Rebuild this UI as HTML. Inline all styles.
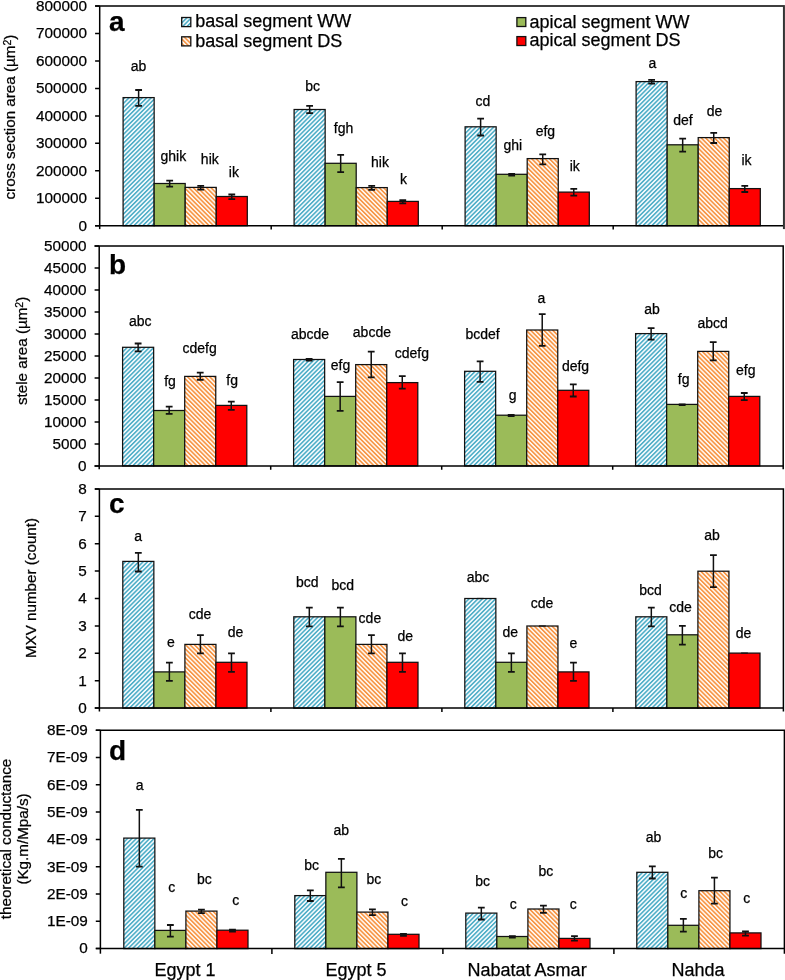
<!DOCTYPE html>
<html><head><meta charset="utf-8"><title>Root anatomy bar charts</title>
<style>html,body{margin:0;padding:0;background:#fff;}svg{display:block;}text{font-family:"Liberation Sans",Arial,sans-serif;fill:#000;stroke:#000;stroke-width:0.25px;}.tl{font-size:15.3px;}.lb{font-size:14px;}.ct{font-size:18px;}.lg{font-size:18px;}.yt{font-size:15.2px;}.sup{font-size:10.5px;}.pl{font-size:28px;font-weight:bold;}</style>
</head><body>
<svg width="785" height="980" viewBox="0 0 785 980">
<defs>
<pattern id="pb" patternUnits="userSpaceOnUse" width="3.13" height="10" patternTransform="rotate(45)"><rect width="3.13" height="10" fill="#f2f9fc"/><rect width="1.5" height="10" fill="#4bacc6"/></pattern>
<pattern id="po" patternUnits="userSpaceOnUse" width="3.13" height="10" patternTransform="rotate(-45)"><rect width="3.13" height="10" fill="#fffaf5"/><rect width="1.65" height="10" fill="#f79646"/></pattern>
</defs>
<rect width="785" height="980" fill="#fff"/>
<rect x="123.1" y="97.6" width="31.05" height="128.1" fill="url(#pb)" stroke="#111" stroke-width="1.25"/>
<rect x="154.15" y="183.5" width="31.05" height="42.2" fill="#9bbb59" stroke="#111" stroke-width="1.25"/>
<rect x="185.2" y="187.4" width="31.05" height="38.3" fill="url(#po)" stroke="#111" stroke-width="1.25"/>
<rect x="216.25" y="196.5" width="31.05" height="29.2" fill="#ff0000" stroke="#111" stroke-width="1.25"/>
<rect x="294.1" y="109.5" width="31.05" height="116.2" fill="url(#pb)" stroke="#111" stroke-width="1.25"/>
<rect x="325.15" y="163.3" width="31.05" height="62.4" fill="#9bbb59" stroke="#111" stroke-width="1.25"/>
<rect x="356.2" y="187.6" width="31.05" height="38.1" fill="url(#po)" stroke="#111" stroke-width="1.25"/>
<rect x="387.25" y="201.4" width="31.05" height="24.3" fill="#ff0000" stroke="#111" stroke-width="1.25"/>
<rect x="465.1" y="126.8" width="31.05" height="98.9" fill="url(#pb)" stroke="#111" stroke-width="1.25"/>
<rect x="496.15" y="174.3" width="31.05" height="51.4" fill="#9bbb59" stroke="#111" stroke-width="1.25"/>
<rect x="527.2" y="158.6" width="31.05" height="67.1" fill="url(#po)" stroke="#111" stroke-width="1.25"/>
<rect x="558.25" y="192.1" width="31.05" height="33.6" fill="#ff0000" stroke="#111" stroke-width="1.25"/>
<rect x="636.1" y="81.6" width="31.05" height="144.1" fill="url(#pb)" stroke="#111" stroke-width="1.25"/>
<rect x="667.15" y="144.8" width="31.05" height="80.9" fill="#9bbb59" stroke="#111" stroke-width="1.25"/>
<rect x="698.2" y="137.6" width="31.05" height="88.1" fill="url(#po)" stroke="#111" stroke-width="1.25"/>
<rect x="729.25" y="188.6" width="31.05" height="37.1" fill="#ff0000" stroke="#111" stroke-width="1.25"/>
<path d="M138.62 90V105.9" stroke="#111" stroke-width="1.5" fill="none"/>
<path d="M135.22 90H142.03M135.22 105.9H142.03" stroke="#111" stroke-width="1.8" fill="none"/>
<text class="lb" x="138.6" y="71.4" text-anchor="middle">ab</text>
<path d="M169.68 180.7V186.6" stroke="#111" stroke-width="1.5" fill="none"/>
<path d="M166.28 180.7H173.08M166.28 186.6H173.08" stroke="#111" stroke-width="1.8" fill="none"/>
<text class="lb" x="173.4" y="161.1" text-anchor="middle">ghik</text>
<path d="M200.72 185.8V189.6" stroke="#111" stroke-width="1.5" fill="none"/>
<path d="M197.32 185.8H204.12M197.32 189.6H204.12" stroke="#111" stroke-width="1.8" fill="none"/>
<text class="lb" x="209.8" y="163.7" text-anchor="middle">hik</text>
<path d="M231.78 194.5V199.1" stroke="#111" stroke-width="1.5" fill="none"/>
<path d="M228.38 194.5H235.18M228.38 199.1H235.18" stroke="#111" stroke-width="1.8" fill="none"/>
<text class="lb" x="233.9" y="176.8" text-anchor="middle">ik</text>
<path d="M309.62 105.9V113.1" stroke="#111" stroke-width="1.5" fill="none"/>
<path d="M306.22 105.9H313.02M306.22 113.1H313.02" stroke="#111" stroke-width="1.8" fill="none"/>
<text class="lb" x="312.7" y="91.4" text-anchor="middle">bc</text>
<path d="M340.67 154.9V172.2" stroke="#111" stroke-width="1.5" fill="none"/>
<path d="M337.27 154.9H344.07M337.27 172.2H344.07" stroke="#111" stroke-width="1.8" fill="none"/>
<text class="lb" x="343.6" y="132.6" text-anchor="middle">fgh</text>
<path d="M371.72 185.8V189.9" stroke="#111" stroke-width="1.5" fill="none"/>
<path d="M368.32 185.8H375.12M368.32 189.9H375.12" stroke="#111" stroke-width="1.8" fill="none"/>
<text class="lb" x="380" y="166.6" text-anchor="middle">hik</text>
<path d="M402.77 200.1V203.4" stroke="#111" stroke-width="1.5" fill="none"/>
<path d="M399.38 200.1H406.17M399.38 203.4H406.17" stroke="#111" stroke-width="1.8" fill="none"/>
<text class="lb" x="403.4" y="183.5" text-anchor="middle">k</text>
<path d="M480.62 118.6V135.5" stroke="#111" stroke-width="1.5" fill="none"/>
<path d="M477.22 118.6H484.02M477.22 135.5H484.02" stroke="#111" stroke-width="1.8" fill="none"/>
<text class="lb" x="482.8" y="106.1" text-anchor="middle">cd</text>
<path d="M511.67 173.8V175.5" stroke="#111" stroke-width="1.5" fill="none"/>
<path d="M508.27 173.8H515.07M508.27 175.5H515.07" stroke="#111" stroke-width="1.8" fill="none"/>
<text class="lb" x="512.9" y="149.5" text-anchor="middle">ghi</text>
<path d="M542.72 154.3V164.4" stroke="#111" stroke-width="1.5" fill="none"/>
<path d="M539.32 154.3H546.12M539.32 164.4H546.12" stroke="#111" stroke-width="1.8" fill="none"/>
<text class="lb" x="545.4" y="135.6" text-anchor="middle">efg</text>
<path d="M573.77 188.9V195.6" stroke="#111" stroke-width="1.5" fill="none"/>
<path d="M570.38 188.9H577.17M570.38 195.6H577.17" stroke="#111" stroke-width="1.8" fill="none"/>
<text class="lb" x="574.7" y="170.7" text-anchor="middle">ik</text>
<path d="M651.62 79.9V83.7" stroke="#111" stroke-width="1.5" fill="none"/>
<path d="M648.23 79.9H655.02M648.23 83.7H655.02" stroke="#111" stroke-width="1.8" fill="none"/>
<text class="lb" x="652.5" y="68.3" text-anchor="middle">a</text>
<path d="M682.67 138.6V151.6" stroke="#111" stroke-width="1.5" fill="none"/>
<path d="M679.27 138.6H686.07M679.27 151.6H686.07" stroke="#111" stroke-width="1.8" fill="none"/>
<text class="lb" x="682.9" y="124.8" text-anchor="middle">def</text>
<path d="M713.73 132.9V143" stroke="#111" stroke-width="1.5" fill="none"/>
<path d="M710.33 132.9H717.12M710.33 143H717.12" stroke="#111" stroke-width="1.8" fill="none"/>
<text class="lb" x="714.5" y="115.6" text-anchor="middle">de</text>
<path d="M744.77 185.8V192" stroke="#111" stroke-width="1.5" fill="none"/>
<path d="M741.38 185.8H748.17M741.38 192H748.17" stroke="#111" stroke-width="1.8" fill="none"/>
<text class="lb" x="746.5" y="165.2" text-anchor="middle">ik</text>
<path d="M95.1 6.1H783.7V229.1" stroke="#000" stroke-width="1.5" fill="none"/>
<path d="M99.7 6.1V229.1" stroke="#000" stroke-width="1.5" fill="none"/>
<path d="M95.1 225.7H783.7" stroke="#000" stroke-width="1.5" fill="none"/>
<path d="M95.1 225.7H99.7M95.1 198.25H99.7M95.1 170.8H99.7M95.1 143.35H99.7M95.1 115.9H99.7M95.1 88.45H99.7M95.1 61H99.7M95.1 33.55H99.7M95.1 6.1H99.7M271.2 225.7V229.5M442.2 225.7V229.5M613.2 225.7V229.5" stroke="#000" stroke-width="1.5" fill="none"/>
<text class="tl" x="87.1" y="230.5" text-anchor="end">0</text>
<text class="tl" x="87.1" y="203.05" text-anchor="end">100000</text>
<text class="tl" x="87.1" y="175.6" text-anchor="end">200000</text>
<text class="tl" x="87.1" y="148.15" text-anchor="end">300000</text>
<text class="tl" x="87.1" y="120.7" text-anchor="end">400000</text>
<text class="tl" x="87.1" y="93.25" text-anchor="end">500000</text>
<text class="tl" x="87.1" y="65.8" text-anchor="end">600000</text>
<text class="tl" x="87.1" y="38.35" text-anchor="end">700000</text>
<text class="tl" x="87.1" y="10.9" text-anchor="end">800000</text>
<rect x="783.2" y="5.2" width="1.8" height="223.9" fill="#404040"/>
<text class="pl" x="109" y="30.6">a</text>
<text class="yt" text-anchor="middle" transform="translate(15.4 117.1) rotate(-90)">cross section area (µm<tspan class="sup" dy="-4">2</tspan><tspan dy="4">)</tspan></text>
<rect x="122.6" y="347.3" width="31.05" height="118.6" fill="url(#pb)" stroke="#111" stroke-width="1.25"/>
<rect x="153.65" y="410.5" width="31.05" height="55.4" fill="#9bbb59" stroke="#111" stroke-width="1.25"/>
<rect x="184.7" y="376.4" width="31.05" height="89.5" fill="url(#po)" stroke="#111" stroke-width="1.25"/>
<rect x="215.75" y="405.4" width="31.05" height="60.5" fill="#ff0000" stroke="#111" stroke-width="1.25"/>
<rect x="293.6" y="359.5" width="31.05" height="106.4" fill="url(#pb)" stroke="#111" stroke-width="1.25"/>
<rect x="324.65" y="396.4" width="31.05" height="69.5" fill="#9bbb59" stroke="#111" stroke-width="1.25"/>
<rect x="355.7" y="364.6" width="31.05" height="101.3" fill="url(#po)" stroke="#111" stroke-width="1.25"/>
<rect x="386.75" y="382.6" width="31.05" height="83.3" fill="#ff0000" stroke="#111" stroke-width="1.25"/>
<rect x="464.6" y="371.3" width="31.05" height="94.6" fill="url(#pb)" stroke="#111" stroke-width="1.25"/>
<rect x="495.65" y="415.2" width="31.05" height="50.7" fill="#9bbb59" stroke="#111" stroke-width="1.25"/>
<rect x="526.7" y="330" width="31.05" height="135.9" fill="url(#po)" stroke="#111" stroke-width="1.25"/>
<rect x="557.75" y="390.3" width="31.05" height="75.6" fill="#ff0000" stroke="#111" stroke-width="1.25"/>
<rect x="635.6" y="333.6" width="31.05" height="132.3" fill="url(#pb)" stroke="#111" stroke-width="1.25"/>
<rect x="666.65" y="404.4" width="31.05" height="61.5" fill="#9bbb59" stroke="#111" stroke-width="1.25"/>
<rect x="697.7" y="351.4" width="31.05" height="114.5" fill="url(#po)" stroke="#111" stroke-width="1.25"/>
<rect x="728.75" y="396.4" width="31.05" height="69.5" fill="#ff0000" stroke="#111" stroke-width="1.25"/>
<path d="M138.12 343.5V351.3" stroke="#111" stroke-width="1.5" fill="none"/>
<path d="M134.72 343.5H141.53M134.72 351.3H141.53" stroke="#111" stroke-width="1.8" fill="none"/>
<text class="lb" x="140.3" y="325.5" text-anchor="middle">abc</text>
<path d="M169.18 406.7V413.8" stroke="#111" stroke-width="1.5" fill="none"/>
<path d="M165.78 406.7H172.58M165.78 413.8H172.58" stroke="#111" stroke-width="1.8" fill="none"/>
<text class="lb" x="170" y="385.6" text-anchor="middle">fg</text>
<path d="M200.22 372.7V379.8" stroke="#111" stroke-width="1.5" fill="none"/>
<path d="M196.82 372.7H203.62M196.82 379.8H203.62" stroke="#111" stroke-width="1.8" fill="none"/>
<text class="lb" x="199.6" y="353.4" text-anchor="middle">cdefg</text>
<path d="M231.28 401.6V409.8" stroke="#111" stroke-width="1.5" fill="none"/>
<path d="M227.88 401.6H234.68M227.88 409.8H234.68" stroke="#111" stroke-width="1.8" fill="none"/>
<text class="lb" x="232.2" y="384.6" text-anchor="middle">fg</text>
<path d="M309.12 358.9V360.7" stroke="#111" stroke-width="1.5" fill="none"/>
<path d="M305.72 358.9H312.52M305.72 360.7H312.52" stroke="#111" stroke-width="1.8" fill="none"/>
<text class="lb" x="310" y="338.7" text-anchor="middle">abcde</text>
<path d="M340.17 382.2V410.8" stroke="#111" stroke-width="1.5" fill="none"/>
<path d="M336.77 382.2H343.57M336.77 410.8H343.57" stroke="#111" stroke-width="1.8" fill="none"/>
<text class="lb" x="340.5" y="369.7" text-anchor="middle">efg</text>
<path d="M371.22 351.7V377.3" stroke="#111" stroke-width="1.5" fill="none"/>
<path d="M367.82 351.7H374.62M367.82 377.3H374.62" stroke="#111" stroke-width="1.8" fill="none"/>
<text class="lb" x="371.9" y="336.7" text-anchor="middle">abcde</text>
<path d="M402.27 376.1V388.6" stroke="#111" stroke-width="1.5" fill="none"/>
<path d="M398.88 376.1H405.67M398.88 388.6H405.67" stroke="#111" stroke-width="1.8" fill="none"/>
<text class="lb" x="411.8" y="357.5" text-anchor="middle">cdefg</text>
<path d="M480.12 361.4V381.8" stroke="#111" stroke-width="1.5" fill="none"/>
<path d="M476.72 361.4H483.52M476.72 381.8H483.52" stroke="#111" stroke-width="1.8" fill="none"/>
<text class="lb" x="482.5" y="338.7" text-anchor="middle">bcdef</text>
<path d="M511.17 414.9V416.1" stroke="#111" stroke-width="1.5" fill="none"/>
<path d="M507.77 414.9H514.57M507.77 416.1H514.57" stroke="#111" stroke-width="1.8" fill="none"/>
<text class="lb" x="512.6" y="400.3" text-anchor="middle">g</text>
<path d="M542.22 314.2V345.8" stroke="#111" stroke-width="1.5" fill="none"/>
<path d="M538.82 314.2H545.62M538.82 345.8H545.62" stroke="#111" stroke-width="1.8" fill="none"/>
<text class="lb" x="541.3" y="302.5" text-anchor="middle">a</text>
<path d="M573.27 384.3V396.5" stroke="#111" stroke-width="1.5" fill="none"/>
<path d="M569.88 384.3H576.67M569.88 396.5H576.67" stroke="#111" stroke-width="1.8" fill="none"/>
<text class="lb" x="575.5" y="371.3" text-anchor="middle">defg</text>
<path d="M651.12 328.2V339.6" stroke="#111" stroke-width="1.5" fill="none"/>
<path d="M647.73 328.2H654.52M647.73 339.6H654.52" stroke="#111" stroke-width="1.8" fill="none"/>
<text class="lb" x="652" y="314.3" text-anchor="middle">ab</text>
<path d="M682.17 404.3V405.1" stroke="#111" stroke-width="1.5" fill="none"/>
<path d="M678.77 404.3H685.57M678.77 405.1H685.57" stroke="#111" stroke-width="1.8" fill="none"/>
<text class="lb" x="683.6" y="383.6" text-anchor="middle">fg</text>
<path d="M713.23 342.1V360.4" stroke="#111" stroke-width="1.5" fill="none"/>
<path d="M709.83 342.1H716.62M709.83 360.4H716.62" stroke="#111" stroke-width="1.8" fill="none"/>
<text class="lb" x="712.7" y="327.5" text-anchor="middle">abcd</text>
<path d="M744.27 393V400.2" stroke="#111" stroke-width="1.5" fill="none"/>
<path d="M740.88 393H747.67M740.88 400.2H747.67" stroke="#111" stroke-width="1.8" fill="none"/>
<text class="lb" x="745.7" y="375" text-anchor="middle">efg</text>
<path d="M94.6 246.1H783.2V469.3" stroke="#000" stroke-width="1.5" fill="none"/>
<path d="M99.2 246.1V469.3" stroke="#000" stroke-width="1.5" fill="none"/>
<path d="M94.6 465.9H783.2" stroke="#000" stroke-width="1.5" fill="none"/>
<path d="M94.6 465.9H99.2M94.6 443.92H99.2M94.6 421.94H99.2M94.6 399.96H99.2M94.6 377.98H99.2M94.6 356H99.2M94.6 334.02H99.2M94.6 312.04H99.2M94.6 290.06H99.2M94.6 268.08H99.2M94.6 246.1H99.2M270.7 465.9V469.7M441.7 465.9V469.7M612.7 465.9V469.7" stroke="#000" stroke-width="1.5" fill="none"/>
<text class="tl" x="86.6" y="470.7" text-anchor="end">0</text>
<text class="tl" x="86.6" y="448.72" text-anchor="end">5000</text>
<text class="tl" x="86.6" y="426.74" text-anchor="end">10000</text>
<text class="tl" x="86.6" y="404.76" text-anchor="end">15000</text>
<text class="tl" x="86.6" y="382.78" text-anchor="end">20000</text>
<text class="tl" x="86.6" y="360.8" text-anchor="end">25000</text>
<text class="tl" x="86.6" y="338.82" text-anchor="end">30000</text>
<text class="tl" x="86.6" y="316.84" text-anchor="end">35000</text>
<text class="tl" x="86.6" y="294.86" text-anchor="end">40000</text>
<text class="tl" x="86.6" y="272.88" text-anchor="end">45000</text>
<text class="tl" x="86.6" y="250.9" text-anchor="end">50000</text>
<text class="pl" x="109" y="274">b</text>
<text class="yt" text-anchor="middle" transform="translate(26.5 350.9) rotate(-90)">stele area (µm<tspan class="sup" dy="-4">2</tspan><tspan dy="4">)</tspan></text>
<rect x="122.8" y="561.4" width="31.05" height="146.7" fill="url(#pb)" stroke="#111" stroke-width="1.25"/>
<rect x="153.85" y="671.9" width="31.05" height="36.2" fill="#9bbb59" stroke="#111" stroke-width="1.25"/>
<rect x="184.9" y="644.4" width="31.05" height="63.7" fill="url(#po)" stroke="#111" stroke-width="1.25"/>
<rect x="215.95" y="662.3" width="31.05" height="45.8" fill="#ff0000" stroke="#111" stroke-width="1.25"/>
<rect x="293.8" y="616.8" width="31.05" height="91.3" fill="url(#pb)" stroke="#111" stroke-width="1.25"/>
<rect x="324.85" y="616.8" width="31.05" height="91.3" fill="#9bbb59" stroke="#111" stroke-width="1.25"/>
<rect x="355.9" y="644.4" width="31.05" height="63.7" fill="url(#po)" stroke="#111" stroke-width="1.25"/>
<rect x="386.95" y="662.3" width="31.05" height="45.8" fill="#ff0000" stroke="#111" stroke-width="1.25"/>
<rect x="464.8" y="598.5" width="31.05" height="109.6" fill="url(#pb)" stroke="#111" stroke-width="1.25"/>
<rect x="495.85" y="662.3" width="31.05" height="45.8" fill="#9bbb59" stroke="#111" stroke-width="1.25"/>
<rect x="526.9" y="626" width="31.05" height="82.1" fill="url(#po)" stroke="#111" stroke-width="1.25"/>
<rect x="557.95" y="671.9" width="31.05" height="36.2" fill="#ff0000" stroke="#111" stroke-width="1.25"/>
<rect x="635.8" y="616.8" width="31.05" height="91.3" fill="url(#pb)" stroke="#111" stroke-width="1.25"/>
<rect x="666.85" y="634.8" width="31.05" height="73.3" fill="#9bbb59" stroke="#111" stroke-width="1.25"/>
<rect x="697.9" y="571.2" width="31.05" height="136.9" fill="url(#po)" stroke="#111" stroke-width="1.25"/>
<rect x="728.95" y="653.1" width="31.05" height="55" fill="#ff0000" stroke="#111" stroke-width="1.25"/>
<path d="M138.33 552.9V571.5" stroke="#111" stroke-width="1.5" fill="none"/>
<path d="M134.93 552.9H141.73M134.93 571.5H141.73" stroke="#111" stroke-width="1.8" fill="none"/>
<text class="lb" x="138.1" y="541.4" text-anchor="middle">a</text>
<path d="M169.38 662.6V680.9" stroke="#111" stroke-width="1.5" fill="none"/>
<path d="M165.98 662.6H172.78M165.98 680.9H172.78" stroke="#111" stroke-width="1.8" fill="none"/>
<text class="lb" x="171" y="647" text-anchor="middle">e</text>
<path d="M200.43 635.1V653.4" stroke="#111" stroke-width="1.5" fill="none"/>
<path d="M197.03 635.1H203.83M197.03 653.4H203.83" stroke="#111" stroke-width="1.8" fill="none"/>
<text class="lb" x="200.1" y="618.9" text-anchor="middle">cde</text>
<path d="M231.48 653.4V671.8" stroke="#111" stroke-width="1.5" fill="none"/>
<path d="M228.08 653.4H234.88M228.08 671.8H234.88" stroke="#111" stroke-width="1.8" fill="none"/>
<text class="lb" x="235.5" y="637.2" text-anchor="middle">de</text>
<path d="M309.32 607.6V626.3" stroke="#111" stroke-width="1.5" fill="none"/>
<path d="M305.92 607.6H312.72M305.92 626.3H312.72" stroke="#111" stroke-width="1.8" fill="none"/>
<text class="lb" x="307.3" y="586.9" text-anchor="middle">bcd</text>
<path d="M340.37 607.6V626.3" stroke="#111" stroke-width="1.5" fill="none"/>
<path d="M336.97 607.6H343.77M336.97 626.3H343.77" stroke="#111" stroke-width="1.8" fill="none"/>
<text class="lb" x="342.8" y="589.9" text-anchor="middle">bcd</text>
<path d="M371.42 635.1V653.4" stroke="#111" stroke-width="1.5" fill="none"/>
<path d="M368.02 635.1H374.82M368.02 653.4H374.82" stroke="#111" stroke-width="1.8" fill="none"/>
<text class="lb" x="369.9" y="623" text-anchor="middle">cde</text>
<path d="M402.47 653.4V671.8" stroke="#111" stroke-width="1.5" fill="none"/>
<path d="M399.07 653.4H405.87M399.07 671.8H405.87" stroke="#111" stroke-width="1.8" fill="none"/>
<text class="lb" x="405.2" y="640.5" text-anchor="middle">de</text>
<path d="M476.92 598.5H483.72" stroke="#111" stroke-width="1.2" fill="none"/>
<text class="lb" x="478.1" y="582.2" text-anchor="middle">abc</text>
<path d="M511.37 653.4V671.8" stroke="#111" stroke-width="1.5" fill="none"/>
<path d="M507.97 653.4H514.77M507.97 671.8H514.77" stroke="#111" stroke-width="1.8" fill="none"/>
<text class="lb" x="510.2" y="637.4" text-anchor="middle">de</text>
<path d="M539.02 626H545.82" stroke="#111" stroke-width="1.2" fill="none"/>
<text class="lb" x="542.1" y="607.9" text-anchor="middle">cde</text>
<path d="M573.47 662.6V680.9" stroke="#111" stroke-width="1.5" fill="none"/>
<path d="M570.07 662.6H576.87M570.07 680.9H576.87" stroke="#111" stroke-width="1.8" fill="none"/>
<text class="lb" x="573.3" y="647.6" text-anchor="middle">e</text>
<path d="M651.32 607.6V626.3" stroke="#111" stroke-width="1.5" fill="none"/>
<path d="M647.92 607.6H654.72M647.92 626.3H654.72" stroke="#111" stroke-width="1.8" fill="none"/>
<text class="lb" x="650.6" y="595.4" text-anchor="middle">bcd</text>
<path d="M682.37 625.9V644.7" stroke="#111" stroke-width="1.5" fill="none"/>
<path d="M678.97 625.9H685.77M678.97 644.7H685.77" stroke="#111" stroke-width="1.8" fill="none"/>
<text class="lb" x="680.5" y="612" text-anchor="middle">cde</text>
<path d="M713.42 555.2V587.2" stroke="#111" stroke-width="1.5" fill="none"/>
<path d="M710.02 555.2H716.82M710.02 587.2H716.82" stroke="#111" stroke-width="1.8" fill="none"/>
<text class="lb" x="712" y="540.4" text-anchor="middle">ab</text>
<path d="M741.07 653.1H747.87" stroke="#111" stroke-width="1.2" fill="none"/>
<text class="lb" x="743.6" y="638.2" text-anchor="middle">de</text>
<path d="M94.8 488.9H783.4V711.5" stroke="#000" stroke-width="1.5" fill="none"/>
<path d="M99.4 488.9V711.5" stroke="#000" stroke-width="1.5" fill="none"/>
<path d="M94.8 708.1H783.4" stroke="#000" stroke-width="1.5" fill="none"/>
<path d="M94.8 708.1H99.4M94.8 680.7H99.4M94.8 653.3H99.4M94.8 625.9H99.4M94.8 598.5H99.4M94.8 571.1H99.4M94.8 543.7H99.4M94.8 516.3H99.4M94.8 488.9H99.4M270.9 708.1V711.9M441.9 708.1V711.9M612.9 708.1V711.9" stroke="#000" stroke-width="1.5" fill="none"/>
<text class="tl" x="86.8" y="712.9" text-anchor="end">0</text>
<text class="tl" x="86.8" y="685.5" text-anchor="end">1</text>
<text class="tl" x="86.8" y="658.1" text-anchor="end">2</text>
<text class="tl" x="86.8" y="630.7" text-anchor="end">3</text>
<text class="tl" x="86.8" y="603.3" text-anchor="end">4</text>
<text class="tl" x="86.8" y="575.9" text-anchor="end">5</text>
<text class="tl" x="86.8" y="548.5" text-anchor="end">6</text>
<text class="tl" x="86.8" y="521.1" text-anchor="end">7</text>
<text class="tl" x="86.8" y="493.7" text-anchor="end">8</text>
<text class="pl" x="109" y="513">c</text>
<text class="yt" text-anchor="middle" transform="translate(35.8 588) rotate(-90)">MXV number (count)</text>
<rect x="123.8" y="838.1" width="31.05" height="110.5" fill="url(#pb)" stroke="#111" stroke-width="1.25"/>
<rect x="154.85" y="930.4" width="31.05" height="18.2" fill="#9bbb59" stroke="#111" stroke-width="1.25"/>
<rect x="185.9" y="911.1" width="31.05" height="37.5" fill="url(#po)" stroke="#111" stroke-width="1.25"/>
<rect x="216.95" y="930.2" width="31.05" height="18.4" fill="#ff0000" stroke="#111" stroke-width="1.25"/>
<rect x="294.8" y="895.6" width="31.05" height="53" fill="url(#pb)" stroke="#111" stroke-width="1.25"/>
<rect x="325.85" y="872.3" width="31.05" height="76.3" fill="#9bbb59" stroke="#111" stroke-width="1.25"/>
<rect x="356.9" y="912.1" width="31.05" height="36.5" fill="url(#po)" stroke="#111" stroke-width="1.25"/>
<rect x="387.95" y="934.3" width="31.05" height="14.3" fill="#ff0000" stroke="#111" stroke-width="1.25"/>
<rect x="465.8" y="913.1" width="31.05" height="35.5" fill="url(#pb)" stroke="#111" stroke-width="1.25"/>
<rect x="496.85" y="936.5" width="31.05" height="12.1" fill="#9bbb59" stroke="#111" stroke-width="1.25"/>
<rect x="527.9" y="909" width="31.05" height="39.6" fill="url(#po)" stroke="#111" stroke-width="1.25"/>
<rect x="558.95" y="938.4" width="31.05" height="10.2" fill="#ff0000" stroke="#111" stroke-width="1.25"/>
<rect x="636.8" y="872.3" width="31.05" height="76.3" fill="url(#pb)" stroke="#111" stroke-width="1.25"/>
<rect x="667.85" y="925.3" width="31.05" height="23.3" fill="#9bbb59" stroke="#111" stroke-width="1.25"/>
<rect x="698.9" y="890.7" width="31.05" height="57.9" fill="url(#po)" stroke="#111" stroke-width="1.25"/>
<rect x="729.95" y="932.9" width="31.05" height="15.7" fill="#ff0000" stroke="#111" stroke-width="1.25"/>
<path d="M139.33 809.8V866.7" stroke="#111" stroke-width="1.5" fill="none"/>
<path d="M135.93 809.8H142.73M135.93 866.7H142.73" stroke="#111" stroke-width="1.8" fill="none"/>
<text class="lb" x="139.7" y="790.2" text-anchor="middle">a</text>
<path d="M170.38 925V936.6" stroke="#111" stroke-width="1.5" fill="none"/>
<path d="M166.98 925H173.78M166.98 936.6H173.78" stroke="#111" stroke-width="1.8" fill="none"/>
<text class="lb" x="171.8" y="892.1" text-anchor="middle">c</text>
<path d="M201.43 909.7V913.2" stroke="#111" stroke-width="1.5" fill="none"/>
<path d="M198.03 909.7H204.83M198.03 913.2H204.83" stroke="#111" stroke-width="1.8" fill="none"/>
<text class="lb" x="204.4" y="884" text-anchor="middle">bc</text>
<path d="M232.48 929.7V931.5" stroke="#111" stroke-width="1.5" fill="none"/>
<path d="M229.08 929.7H235.88M229.08 931.5H235.88" stroke="#111" stroke-width="1.8" fill="none"/>
<text class="lb" x="235.8" y="904.7" text-anchor="middle">c</text>
<path d="M310.32 890.4V901" stroke="#111" stroke-width="1.5" fill="none"/>
<path d="M306.92 890.4H313.72M306.92 901H313.72" stroke="#111" stroke-width="1.8" fill="none"/>
<text class="lb" x="311.7" y="869.7" text-anchor="middle">bc</text>
<path d="M341.37 858.8V887.3" stroke="#111" stroke-width="1.5" fill="none"/>
<path d="M337.97 858.8H344.77M337.97 887.3H344.77" stroke="#111" stroke-width="1.8" fill="none"/>
<text class="lb" x="341.3" y="835.4" text-anchor="middle">ab</text>
<path d="M372.42 909.3V915.2" stroke="#111" stroke-width="1.5" fill="none"/>
<path d="M369.02 909.3H375.82M369.02 915.2H375.82" stroke="#111" stroke-width="1.8" fill="none"/>
<text class="lb" x="373.8" y="884" text-anchor="middle">bc</text>
<path d="M403.47 933.8V935.8" stroke="#111" stroke-width="1.5" fill="none"/>
<path d="M400.07 933.8H406.87M400.07 935.8H406.87" stroke="#111" stroke-width="1.8" fill="none"/>
<text class="lb" x="404.4" y="906" text-anchor="middle">c</text>
<path d="M481.32 907.7V919.5" stroke="#111" stroke-width="1.5" fill="none"/>
<path d="M477.92 907.7H484.72M477.92 919.5H484.72" stroke="#111" stroke-width="1.8" fill="none"/>
<text class="lb" x="482.7" y="885.6" text-anchor="middle">bc</text>
<path d="M512.38 936.1V937.5" stroke="#111" stroke-width="1.5" fill="none"/>
<path d="M508.98 936.1H515.77M508.98 937.5H515.77" stroke="#111" stroke-width="1.8" fill="none"/>
<text class="lb" x="513.3" y="908.8" text-anchor="middle">c</text>
<path d="M543.42 905.7V912.8" stroke="#111" stroke-width="1.5" fill="none"/>
<path d="M540.02 905.7H546.82M540.02 912.8H546.82" stroke="#111" stroke-width="1.8" fill="none"/>
<text class="lb" x="545.8" y="875.8" text-anchor="middle">bc</text>
<path d="M574.47 936.2V940.7" stroke="#111" stroke-width="1.5" fill="none"/>
<path d="M571.07 936.2H577.87M571.07 940.7H577.87" stroke="#111" stroke-width="1.8" fill="none"/>
<text class="lb" x="573.3" y="908.8" text-anchor="middle">c</text>
<path d="M652.32 866.3V878.5" stroke="#111" stroke-width="1.5" fill="none"/>
<path d="M648.92 866.3H655.72M648.92 878.5H655.72" stroke="#111" stroke-width="1.8" fill="none"/>
<text class="lb" x="653.5" y="841.6" text-anchor="middle">ab</text>
<path d="M683.37 918.9V931.7" stroke="#111" stroke-width="1.5" fill="none"/>
<path d="M679.97 918.9H686.77M679.97 931.7H686.77" stroke="#111" stroke-width="1.8" fill="none"/>
<text class="lb" x="683.8" y="897.6" text-anchor="middle">c</text>
<path d="M714.42 877.7V903.6" stroke="#111" stroke-width="1.5" fill="none"/>
<path d="M711.02 877.7H717.82M711.02 903.6H717.82" stroke="#111" stroke-width="1.8" fill="none"/>
<text class="lb" x="715.7" y="857.5" text-anchor="middle">bc</text>
<path d="M745.47 931.5V935.6" stroke="#111" stroke-width="1.5" fill="none"/>
<path d="M742.07 931.5H748.87M742.07 935.6H748.87" stroke="#111" stroke-width="1.8" fill="none"/>
<text class="lb" x="746.8" y="902.9" text-anchor="middle">c</text>
<path d="M95.8 730.2H784.4V953.7" stroke="#000" stroke-width="1.5" fill="none"/>
<path d="M100.4 730.2V953.7" stroke="#000" stroke-width="1.5" fill="none"/>
<path d="M95.8 948.6H784.4" stroke="#000" stroke-width="1.5" fill="none"/>
<path d="M95.8 948.6H100.4M95.8 921.3H100.4M95.8 894H100.4M95.8 866.7H100.4M95.8 839.4H100.4M95.8 812.1H100.4M95.8 784.8H100.4M95.8 757.5H100.4M95.8 730.2H100.4M271.9 948.6V954.1M442.9 948.6V954.1M613.9 948.6V954.1" stroke="#000" stroke-width="1.5" fill="none"/>
<text class="tl" x="87.8" y="953.4" text-anchor="end">0</text>
<text class="tl" x="87.8" y="926.1" text-anchor="end">1E-09</text>
<text class="tl" x="87.8" y="898.8" text-anchor="end">2E-09</text>
<text class="tl" x="87.8" y="871.5" text-anchor="end">3E-09</text>
<text class="tl" x="87.8" y="844.2" text-anchor="end">4E-09</text>
<text class="tl" x="87.8" y="816.9" text-anchor="end">5E-09</text>
<text class="tl" x="87.8" y="789.6" text-anchor="end">6E-09</text>
<text class="tl" x="87.8" y="762.3" text-anchor="end">7E-09</text>
<text class="tl" x="87.8" y="735" text-anchor="end">8E-09</text>
<text class="pl" x="109" y="759.5">d</text>
<text class="yt" text-anchor="middle" transform="translate(10.6 839) rotate(-90)">theoretical conductance</text>
<text class="yt" text-anchor="middle" transform="translate(28.2 839) rotate(-90)">(Kg.m/Mpa/s)</text>
<rect x="181.7" y="17.5" width="9.1" height="9.1" fill="url(#pb)" stroke="#111" stroke-width="1.3"/>
<rect x="181.7" y="36.8" width="9.1" height="9.1" fill="url(#po)" stroke="#111" stroke-width="1.3"/>
<rect x="516.9" y="17.6" width="8.9" height="8.9" fill="#9bbb59" stroke="#111" stroke-width="1.3"/>
<rect x="516.9" y="36.6" width="8.9" height="8.9" fill="#ff0000" stroke="#111" stroke-width="1.3"/>
<text class="lg" x="195.2" y="27.3">basal segment WW</text>
<text class="lg" x="195.2" y="46.5">basal segment DS</text>
<text class="lg" x="529.5" y="27.6">apical segment WW</text>
<text class="lg" x="529.5" y="46.4">apical segment DS</text>
<text class="ct" x="185.1" y="976.3" text-anchor="middle">Egypt 1</text>
<text class="ct" x="356.1" y="976.3" text-anchor="middle">Egypt 5</text>
<text class="ct" x="527.1" y="976.3" text-anchor="middle">Nabatat Asmar</text>
<text class="ct" x="698.1" y="976.3" text-anchor="middle">Nahda</text>
</svg>
</body></html>
